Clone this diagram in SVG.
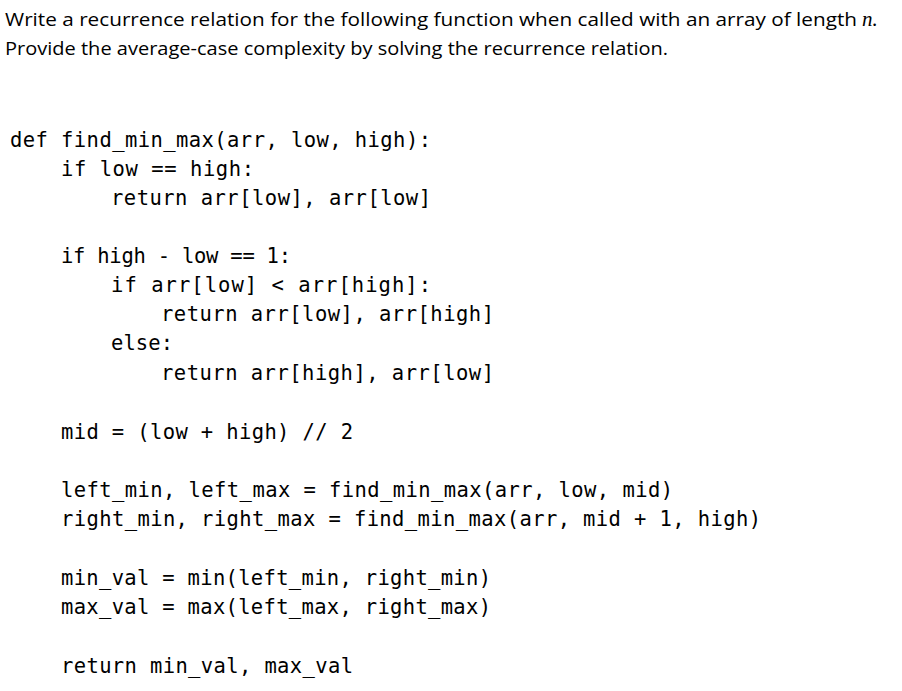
<svg xmlns="http://www.w3.org/2000/svg" width="902" height="691" viewBox="0 0 902 691">
<style>
.h{font-family:"Open Sans","Liberation Sans",sans-serif;font-size:19px;fill:#000}
.c{font-family:"DejaVu Sans Mono","Liberation Mono",monospace;font-size:20.5px;fill:#000;white-space:pre}
</style>
<rect width="902" height="691" fill="#fff"/>
<g id="question">
<text class="h" x="5" y="26" textLength="852" lengthAdjust="spacingAndGlyphs">Write a recurrence relation for the following function when called with an array of length</text>
<text x="862" y="26" font-family="Liberation Serif,serif" font-style="italic" font-size="21">n.</text>
<text class="h" x="5" y="55" textLength="663" lengthAdjust="spacingAndGlyphs">Provide the average-case complexity by solving the recurrence relation.</text>
</g>
<g id="code">
<text class="c" x="10" y="147" textLength="421">def find_min_max(arr, low, high):</text>
<text class="c" x="61" y="176" textLength="193">if low == high:</text>
<text class="c" x="111" y="205" textLength="320">return arr[low], arr[low]</text>
<text class="c" x="61" y="263" textLength="230">if high - low == 1:</text>
<text class="c" x="111" y="292" textLength="320">if arr[low] &lt; arr[high]:</text>
<text class="c" x="161" y="321" textLength="333">return arr[low], arr[high]</text>
<text class="c" x="111" y="350" textLength="62">else:</text>
<text class="c" x="161" y="380" textLength="333">return arr[high], arr[low]</text>
<text class="c" x="61" y="439" textLength="292">mid = (low + high) // 2</text>
<text class="c" x="61" y="497" textLength="612">left_min, left_max = find_min_max(arr, low, mid)</text>
<text class="c" x="61" y="526" textLength="700">right_min, right_max = find_min_max(arr, mid + 1, high)</text>
<text class="c" x="61" y="585" textLength="430">min_val = min(left_min, right_min)</text>
<text class="c" x="61" y="614" textLength="430">max_val = max(left_max, right_max)</text>
<text class="c" x="61" y="673" textLength="292">return min_val, max_val</text>
</g>
</svg>
